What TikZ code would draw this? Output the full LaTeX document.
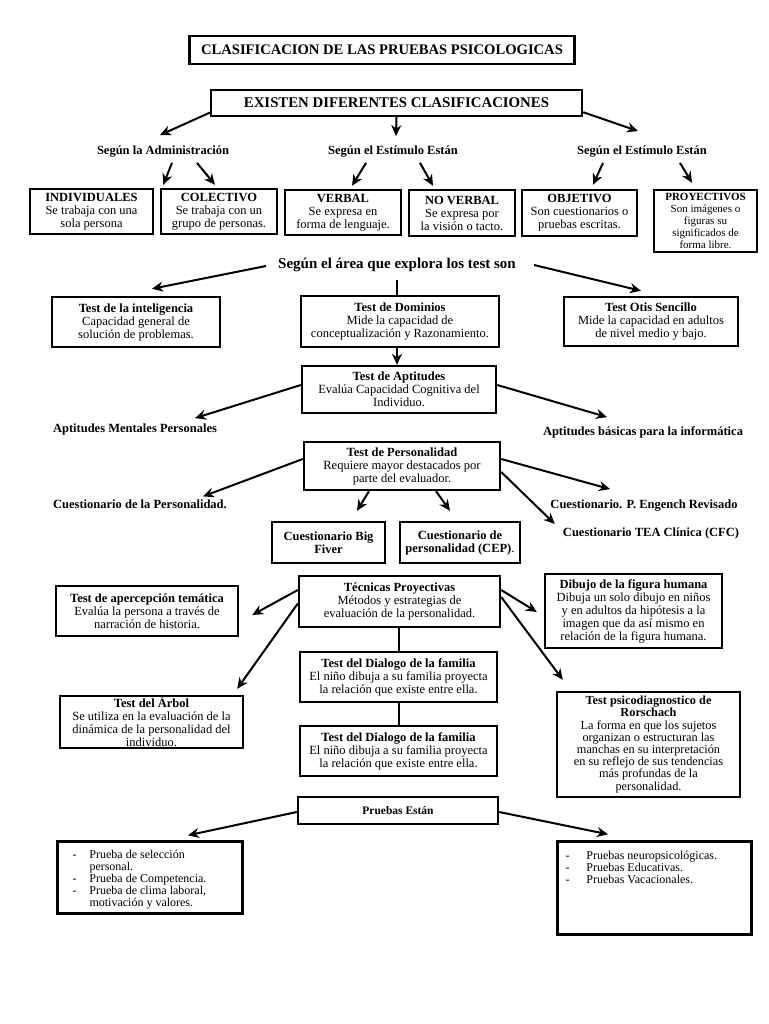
\documentclass[tikz,border=0pt]{standalone}
\usepackage{fontspec}
\setmainfont{Liberation Serif}
\usetikzlibrary{arrows.meta}

\tikzset{
  box/.style={draw, line width=2.4pt, align=center, inner sep=1pt,
    font=\fontsize{12.5}{13}\selectfont},
  lbl/.style={inner sep=1pt, font=\bfseries\fontsize{12.5}{13}\selectfont},
  arr/.style={line width=2pt, -{Stealth[length=11pt,width=10pt]}},
  link/.style={line width=2pt},
}

\begin{document}
\begin{tikzpicture}[x=1pt,y=-1pt]
\useasboundingbox (0,0) rectangle (768,1024);

% cabecera
\node[box, minimum width=385, minimum height=28, font=\bfseries\fontsize{14.6}{16}\selectfont] (titulo) at (382,50) {CLASIFICACION DE LAS PRUEBAS PSICOLOGICAS};
\node[box, minimum width=371, minimum height=26, font=\bfseries\fontsize{14.8}{16}\selectfont] (existen) at (396.5,103) {EXISTEN DIFERENTES CLASIFICACIONES};

\node[lbl] (admin) at (163,152) {Según la Administración};
\node[lbl] (estim) at (393,152) {Según el Estímulo Están};
\node[lbl] (estimb) at (642,152) {Según el Estímulo Están};

\draw[arr] ([shift={(1,-5)}]existen.south west) -- ([shift={(-3,-10)}]admin.north);
\draw[arr] (existen.south) -- ([shift={(3,-9)}]estim.north);
\draw[arr] ([shift={(0,-5)}]existen.south east) -- ([shift={(-4,-14)}]estimb.north);

% primer nivel
\node[box, minimum width=123, minimum height=45] (indiv) at (91.5,211.5) {\textbf{INDIVIDUALES}\\Se trabaja con una\\sola persona};
\node[box, minimum width=116, minimum height=45] (colec) at (219,211.5) {\textbf{COLECTIVO}\\Se trabaja con un\\grupo de personas.};
\node[box, minimum width=116, minimum height=45] (verbal) at (343,212.5) {\textbf{VERBAL}\\Se expresa en\\forma de lenguaje.};
\node[box, minimum width=106, minimum height=46] (noverbal) at (462,213) {\textbf{NO VERBAL}\\Se expresa por\\la visión o tacto.};
\node[box, minimum width=115, minimum height=46] (objetivo) at (579.5,213) {\textbf{OBJETIVO}\\Son cuestionarios o\\pruebas escritas.};
\node[box, minimum width=103, minimum height=62, font=\fontsize{11}{12}\selectfont] (proyect) at (705.5,221) {\textbf{PROYECTIVOS}\\Son imágenes o\\figuras su\\significados de\\forma libre.};

\draw[arr] ([shift={(9,4)}]admin.south) -- ([shift={(9,-3)}]indiv.north east);
\draw[arr] ([shift={(34,4)}]admin.south) -- ([shift={(-4,-3)}]colec.north);
\draw[arr] ([shift={(-27,4)}]estim.south) -- ([shift={(9,-3)}]verbal.north);
\draw[arr] ([shift={(27,4)}]estim.south) -- ([shift={(-29,-3)}]noverbal.north);
\draw[arr] ([shift={(-39,4)}]estimb.south) -- ([shift={(13.5,-4)}]objetivo.north);
\draw[arr] ([shift={(38,4)}]estimb.south) -- ([shift={(-13.5,-6)}]proyect.north);

% segun el area
\node[lbl, font=\bfseries\fontsize{15}{16}\selectfont] (area) at (397,265) {Según el área que explora los test son};

\node[box, minimum width=168, minimum height=50] (intel) at (136,322) {\textbf{Test de la inteligencia}\\Capacidad general de\\solución de problemas.};
\node[box, minimum width=198, minimum height=51] (dominio) at (400,321.5) {\textbf{Test de Dominios}\\Mide la capacidad de\\conceptualización y Razonamiento.};
\node[box, minimum width=174, minimum height=49] (otis) at (651,321.5) {\textbf{Test Otis Sencillo}\\Mide la capacidad en adultos\\de nivel medio y bajo.};

\draw[arr] ([shift={(-11,1)}]area.west) -- ([shift={(16,-7)}]intel.north);
\draw[arr] ([shift={(17,0)}]area.east) -- ([shift={(-10,-5)}]otis.north);
\draw[link] ([shift={(0,7)}]area.south) -- (area.south |- dominio.north);

% aptitudes
\node[box, minimum width=194, minimum height=47] (aptit) at (399,389.5) {\textbf{Test de Aptitudes}\\Evalúa Capacidad Cognitiva del\\Individuo.};
\node[lbl] (mental) at (135,429) {Aptitudes Mentales Personales};
\node[lbl] (basica) at (643,432) {Aptitudes básicas para la informática};

\draw[arr] ([shift={(-3,0)}]dominio.south) -- ([shift={(-3,0)}]dominio.south |- aptit.north);
\draw[arr] ([shift={(0,-4.5)}]aptit.west) -- ([shift={(60,-4)}]mental.north);
\draw[arr] ([shift={(0,-4.5)}]aptit.east) -- ([shift={(-36,-8)}]basica.north);

% personalidad
\node[box, minimum width=196, minimum height=48] (perso) at (402,466) {\textbf{Test de Personalidad}\\Requiere mayor destacados por\\parte del evaluador.};
\node[lbl] (cuestp) at (140,504) {Cuestionario de la Personalidad.};
\node[lbl] (engench) at (644,506) {Cuestionario. P. Engench Revisado};
\node[lbl] (tea) at (651,533) {Cuestionario TEA Clínica (CFC)};
\node[box, minimum width=113, minimum height=41] (bigfive) at (328.5,542.5) {\textbf{Cuestionario Big}\\\textbf{Fiver}};
\node[box, minimum width=120, minimum height=41] (cep) at (460,542.5) {\textbf{Cuestionario de}\\\textbf{personalidad (CEP)}.};

\draw[arr] ([shift={(0,-7)}]perso.west) -- ([shift={(63,-2)}]cuestp.north);
\draw[arr] ([shift={(0,-7)}]perso.east) -- ([shift={(-34,-10)}]engench.north);
\draw[arr] ([shift={(-33,0)}]perso.south) -- ([shift={(28.5,-10)}]bigfive.north);
\draw[arr] ([shift={(34,0)}]perso.south) -- ([shift={(-10,-10)}]cep.north);
\draw[arr] ([shift={(0,6)}]perso.east) -- ([shift={(-7,-9)}]tea.west);

% tecnicas proyectivas
\node[box, minimum width=201, minimum height=51] (tecnica) at (399.5,601.5) {\textbf{Técnicas Proyectivas}\\Métodos y estrategias de\\evaluación de la personalidad.};
\node[box, minimum width=182, minimum height=50] (apercep) at (147,611) {\textbf{Test de apercepción temática}\\Evalúa la persona a través de\\narración de historia.};
\node[box, minimum width=183, minimum height=52] (arbol) at (151.5,722) {\textbf{Test del Árbol}\\Se utiliza en la evaluación de la\\dinámica de la personalidad del\\individuo.};
\node[box, minimum width=177, minimum height=74] (dibujo) at (633.5,611) {\textbf{Dibujo de la figura humana}\\Dibuja un solo dibujo en niños\\y en adultos da hipótesis a la\\imagen que da así mismo en\\relación de la figura humana.};
\node[box, minimum width=183, minimum height=105, font=\fontsize{12.3}{12.2}\selectfont] (rorsch) at (648.5,744.5) {\textbf{Test psicodiagnostico de}\\\textbf{Rorschach}\\La forma en que los sujetos\\organizan o estructuran las\\manchas en su interpretación\\en su reflejo de sus tendencias\\más profundas de la\\personalidad.};
\node[box, minimum width=197, minimum height=50] (dialogo) at (398.5,677) {\textbf{Test del Dialogo de la familia}\\El niño dibuja a su familia proyecta\\la relación que existe entre ella.};
\node[box, minimum width=197, minimum height=50] (dialogob) at (398.5,751) {\textbf{Test del Dialogo de la familia}\\El niño dibuja a su familia proyecta\\la relación que existe entre ella.};

\draw[arr] ([shift={(0,-11.5)}]tecnica.west) -- ([shift={(13,4)}]apercep.east);
\draw[arr] ([shift={(0,2)}]tecnica.west) -- ([shift={(-7,-6)}]arbol.north east);
\draw[arr] ([shift={(0,-11.5)}]tecnica.east) -- ([shift={(-7,1)}]dibujo.west);
\draw[arr] ([shift={(0,-4.5)}]tecnica.east) -- ([shift={(7,-11)}]rorsch.north west);
\draw[link] (tecnica.south -| dialogo.north) -- (dialogo.north);
\draw[link] (dialogo.south) -- (dialogob.north);

% pruebas
\node[box, minimum width=200, minimum height=27, font=\bfseries\fontsize{11.5}{12}\selectfont] (pruebas) at (398,810.5) {Pruebas Están};
\node[box, align=left] (listaa) at (150,877.5) {\parbox[c][70pt][t]{183pt}{\fontsize{12}{12}\selectfont\raggedright\vspace*{8pt}%
\hspace*{14pt}\makebox[17pt][l]{-}Prueba de selección\\
\hspace*{31pt}personal.\\
\hspace*{14pt}\makebox[17pt][l]{-}Prueba de Competencia.\\
\hspace*{14pt}\makebox[17pt][l]{-}Prueba de clima laboral,\\
\hspace*{31pt}motivación y valores.}};
\node[box, align=left] (listab) at (654.5,888) {\parbox[c][91pt][t]{192pt}{\fontsize{12}{12}\selectfont\raggedright\vspace*{9pt}%
\hspace*{7pt}\makebox[21pt][l]{-}Pruebas neuropsicológicas.\\
\hspace*{7pt}\makebox[21pt][l]{-}Pruebas Educativas.\\
\hspace*{7pt}\makebox[21pt][l]{-}Pruebas Vacacionales.}};

\draw[arr] ([shift={(0,1.5)}]pruebas.west) -- ([shift={(38,-5)}]listaa.north);
\draw[arr] ([shift={(0,1.5)}]pruebas.east) -- ([shift={(-46.5,-6)}]listab.north);
\end{tikzpicture}
\end{document}
